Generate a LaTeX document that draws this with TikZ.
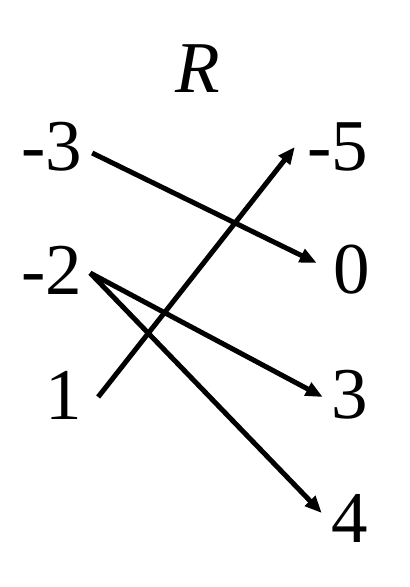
\documentclass[tikz,border=0pt]{standalone}
\usepackage{fontspec}
\setmainfont{Liberation Serif}
\usetikzlibrary{arrows.meta}
\begin{document}
\begin{tikzpicture}[x=1pt,y=-1pt,
  lbl/.style={inner sep=0pt,font=\fontsize{73}{80}\selectfont},
  arr/.style={line width=5pt,-{Triangle[length=17pt,width=14pt]}}]
\useasboundingbox (0,0) rectangle (410,587);
\node[lbl] (R) at (198,69) {\textit{R}};
\node[lbl] (m3) at (52,147) {-3};
\node[lbl] (m2) at (52,270) {-2};
\node[lbl] (p1) at (64,395) {1};
\node[lbl] (m5) at (338,147) {-5};
\node[lbl] (z0) at (352,270) {0};
\node[lbl] (p3) at (350,395) {3};
\node[lbl] (p4) at (350,518) {4};
\draw[arr] ([shift={(9.6,6)}]m3.east) -- ([shift={(-16.8,-7)}]z0.west);
\draw[arr] ([shift={(15.7,2)}]p1.east) -- ([shift={(-12.6,0)}]m5.west);
\draw[arr] ([shift={(7.6,3)}]m2.east) -- ([shift={(-8.8,2)}]p3.west);
\draw[arr] ([shift={(7.6,3)}]m2.east) -- ([shift={(-9.8,-5)}]p4.west);
\end{tikzpicture}
\end{document}
